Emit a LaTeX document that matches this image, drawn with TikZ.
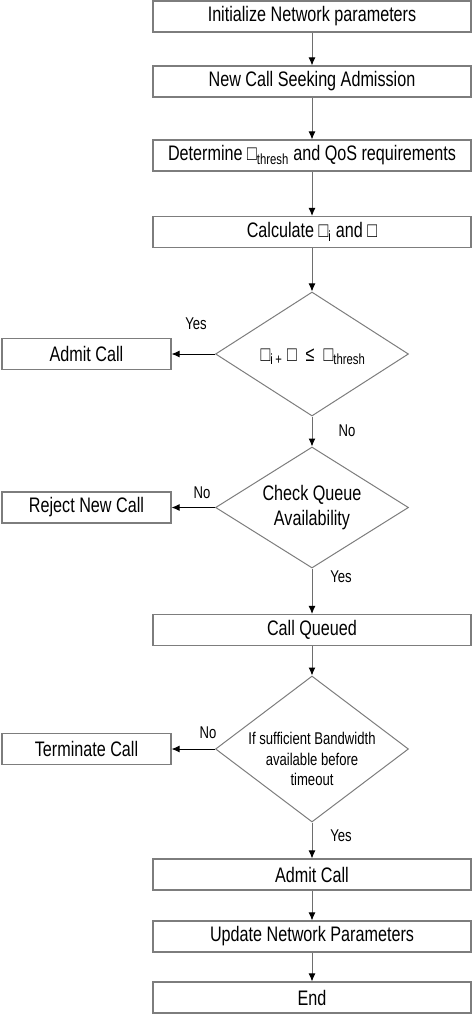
\documentclass[tikz,border=0pt]{standalone}
\usepackage{fontspec}
\setmainfont[FakeStretch=0.77]{Liberation Sans}
\usetikzlibrary{arrows.meta,shapes.geometric}
\definecolor{boxgray}{RGB}{125,125,125}
\definecolor{linegray}{RGB}{110,110,110}
\newcommand{\gbox}{□}
\begin{document}
\begin{tikzpicture}[x=1pt,y=-1pt,
 box/.style={draw=boxgray,line width=1.1pt,minimum width=318pt,minimum height=31pt,inner sep=0pt,font=\fontsize{21}{24}\selectfont},
 sbox/.style={box,minimum width=169pt},
 dia/.style={draw=boxgray,line width=1pt,diamond,minimum width=193pt,minimum height=124pt,inner sep=0pt},
 arr/.style={draw=linegray,line width=1pt,-{Latex[color=black,length=8pt,width=7pt]}},
 lab/.style={font=\fontsize{17}{20}\selectfont,inner sep=0pt},
]
\useasboundingbox (0,0) rectangle (474,1016);
% main column
\node[box] (b1) at (312,16.5) {Initialize Network parameters};
\node[box] (b2) at (312,81.5) {New Call Seeking Admission};
\node[box] (b3) at (312,155.5) {Determine \gbox\textsubscript{thresh} and QoS requirements};
\node[box] (b4) at (312,232) {Calculate \gbox\textsubscript{i} and \gbox};
\node[dia] (d1) at (312,354) {};
\node[lab,font=\fontsize{21}{24}\selectfont] (t1) at (313,357) {\gbox\textsubscript{i\,+}\ \gbox\ \ ≤\ \ \gbox\textsubscript{thresh}};
\node[dia,minimum height=121pt] (d2) at (312,507.5) {};
\node[lab,font=\fontsize{21}{25}\selectfont,align=center] (t2) at (312,508) {Check Queue\\Availability};
\node[box] (cq) at (312,630) {Call Queued};
\node[dia,minimum height=146pt] (d3) at (312,749) {};
\node[lab,align=center,font=\fontsize{17}{20.5}\selectfont] (t3) at (312,759) {If sufficient Bandwidth\\available before\\timeout};
\node[box] (a2) at (312,874.5) {Admit Call};
\node[box] (up) at (312,936.5) {Update Network Parameters};
\node[box] (en) at (312,997.5) {End};
% left column
\node[sbox] (a1) at (86.5,354) {Admit Call};
\node[sbox] (rj) at (86.5,507.5) {Reject New Call};
\node[sbox] (tm) at (86.5,749) {Terminate Call};
% connectors
\draw[arr] (b1) -- (b2);
\draw[arr] (b2) -- (b3);
\draw[arr] (b3) -- (b4);
\draw[arr] (b4) -- (d1);
\draw[arr] (d1) -- (d2);
\draw[arr] (d2) -- (cq);
\draw[arr] (cq) -- (d3);
\draw[arr] (d3) -- (a2);
\draw[arr] (a2) -- (up);
\draw[arr] (up) -- (en);
\draw[arr,draw=black] (d1.west) -- (a1.east);
\draw[arr,draw=black] (d2.west) -- (rj.east);
\draw[arr,draw=black] (d3.west) -- (tm.east);
% labels
\node[lab] (l1) at (196,324) {Yes};
\node[lab] (l2) at (347,431) {No};
\node[lab] (l3) at (202,493) {No};
\node[lab] (l4) at (341,577) {Yes};
\node[lab] (l5) at (208,733) {No};
\node[lab] (l6) at (341,836) {Yes};
\end{tikzpicture}
\end{document}
